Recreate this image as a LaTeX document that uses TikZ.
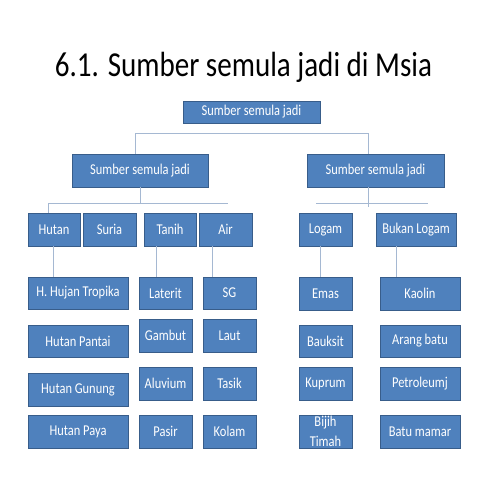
\documentclass[tikz,border=0pt]{standalone}
\usepackage{fontspec}
\setmainfont{Carlito}[FakeStretch=0.83]
\usepackage{tikz}
\usetikzlibrary{positioning}
\definecolor{kotakisi}{RGB}{79,129,189}
\definecolor{kotakgaris}{RGB}{56,93,138}
\definecolor{garis}{RGB}{165,184,210}

\begin{document}
\begin{tikzpicture}
    [x=1pt, y=-1pt,
     kotak/.style 2 args={draw=kotakgaris, fill=kotakisi, text=white, rectangle,
       line width=0.8pt, inner sep=0pt, minimum width=#1, minimum height=#2,
       font=\fontsize{15}{16}\selectfont, align=center},
     sambung/.style={draw=garis, line width=0.9pt}]
    \useasboundingbox [fill=white] (0,0) rectangle (480,480);

    \node (tajuk) [anchor=base] at (243.5,76) {\fontsize{35}{40}\selectfont 6.1. Sumber semula jadi di Msia};

    \node (utama) [kotak={137pt}{22pt}] at (251.5,112) {Sumber semula jadi};
    \node (kiri) [kotak={136pt}{33pt}] at (140,170.5) {Sumber semula jadi};
    \node (kanan) [kotak={137pt}{33pt}] at (375.5,170.5) {Sumber semula jadi};

    \node (hutan) [kotak={52pt}{33pt}] at (54,229.5) {Hutan};
    \node (suria) [kotak={53pt}{33pt}] at (109.5,229.5) {Suria};
    \node (tanih) [kotak={52pt}{33pt}] at (170,229.5) {Tanih};
    \node (air) [kotak={53pt}{33pt}] at (225.5,229.5) {Air};
    \node (logam) [kotak={53pt}{33pt}] at (325.5,229.5) {Logam};
    \node (bukan) [kotak={80pt}{33pt}] at (416,229.5) {Bukan Logam};

    % hutan
    \node (hujan) [kotak={100pt}{32pt}] at (78,293) {H. Hujan Tropika};
    \node (pantai) [kotak={100pt}{32pt}] at (78,341) {Hutan Pantai};
    \node (gunung) [kotak={100pt}{33pt}] at (78,389.5) {Hutan Gunung};
    \node (paya) [kotak={100pt}{33pt}] at (78,431.5) {Hutan Paya};

    % tanih
    \node (laterit) [kotak={53pt}{32pt}] at (165.5,293) {Laterit};
    \node (gambut) [kotak={53pt}{33pt}] at (165.5,335.5) {Gambut};
    \node (aluvium) [kotak={53pt}{33pt}] at (165.5,383.5) {Aluvium};
    \node (pasir) [kotak={53pt}{33pt}] at (165.5,431.5) {Pasir};

    % air
    \node (sg) [kotak={53pt}{32pt}] at (229.5,293) {SG};
    \node (laut) [kotak={53pt}{33pt}] at (229.5,335.5) {Laut};
    \node (tasik) [kotak={53pt}{33pt}] at (229.5,383.5) {Tasik};
    \node (kolam) [kotak={53pt}{33pt}] at (229.5,431.5) {Kolam};

    % logam
    \node (emas) [kotak={53pt}{33pt}] at (325.5,293.5) {Emas};
    \node (bauksit) [kotak={53pt}{32pt}] at (325.5,341) {Bauksit};
    \node (kuprum) [kotak={53pt}{33pt}] at (325.5,383.5) {Kuprum};
    \node (bijih) [kotak={53pt}{33pt}, font=\fontsize{15}{20}\selectfont] at (325.5,431.5) {Bijih\\Timah};

    % bukan logam
    \node (kaolin) [kotak={80pt}{33pt}] at (420,293.5) {Kaolin};
    \node (arang) [kotak={80pt}{32pt}] at (420,341) {Arang batu};
    \node (petroleum) [kotak={80pt}{33pt}] at (420,383.5) {Petroleumj};
    \node (marmar) [kotak={80pt}{33pt}] at (420,431.5) {Batu mamar};

    \coordinate (a1) at (135,133);
    \coordinate (a2) at (368,133);
    \coordinate (b1) at (48,203);
    \coordinate (b2) at (228,203);
    \coordinate (b3) at (140,203);
    \coordinate (c1) at (316,203);
    \coordinate (c2) at (428,203);
    \coordinate (c3) at (368,207);

    \draw [sambung] (kiri.north -| a1) -- (a1) -- (a2) -- (kanan.north -| a2);
    \draw [sambung] (kiri.south) -- (b3);
    \draw [sambung] (b1) -- (b2);
    \draw [sambung] (b1) -- (hutan.north -| b1);
    \draw [sambung] (kanan.south -| c3) -- (c3);
    \draw [sambung] (c1) -- (c2);

    \draw [sambung] (hutan.south -| 53,0) -- (hujan.north -| 53,0);
    \draw [sambung] (tanih.south -| 156,0) -- (laterit.north -| 156,0);
    \draw [sambung] (air.south -| 212,0) -- (sg.north -| 212,0);
    \draw [sambung] (logam.south -| 320,0) -- (emas.north -| 320,0);
    \draw [sambung] (bukan.south -| 396,0) -- (kaolin.north -| 396,0);
  \end{tikzpicture}
\end{document}
